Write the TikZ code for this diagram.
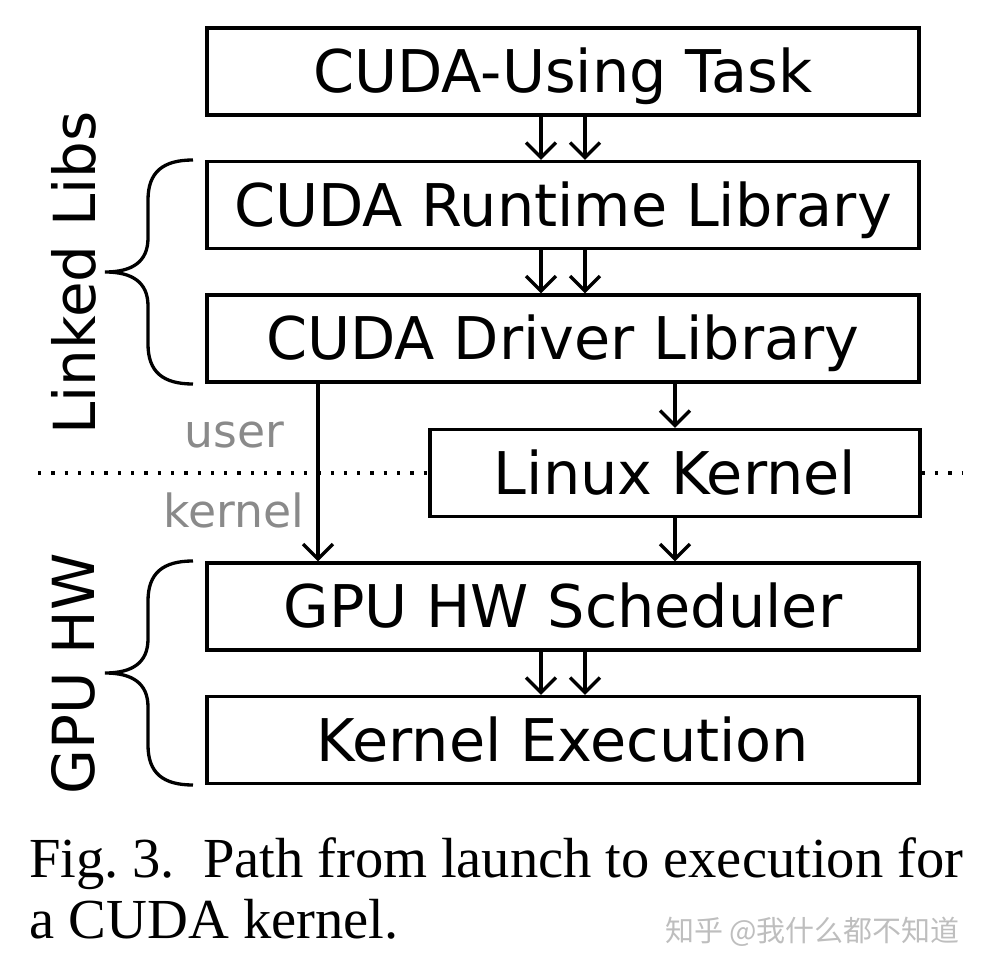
\documentclass[tikz,border=0pt]{standalone}
\usepackage{fontspec}
\setmainfont{DejaVu Sans}
\newfontfamily\capfont{Liberation Serif}
\newfontfamily\cjkfont{Noto Sans CJK SC}
\usetikzlibrary{arrows.meta}
\definecolor{lblgray}{RGB}{138,138,138}
\definecolor{wmgray}{RGB}{190,190,190}
\begin{document}
\begin{tikzpicture}[x=0.02cm,y=-0.02cm,
  lw/.style={line width=0.066cm},
  box/.style={draw, lw, rectangle, inner sep=0pt, minimum height=1.74cm,
    font=\fontsize{33.5}{40}\selectfont, text height=24.4pt, text depth=0pt},
  arr/.style={lw, -{Straight Barb[length=8.5pt,width=17pt]}},
  side/.style={rotate=90, anchor=base, inner sep=0pt, font=\fontsize{33}{40}\selectfont},
  ulbl/.style={anchor=base, inner sep=0pt, text=lblgray, font=\fontsize{26}{30}\selectfont},
  dotline/.style={lw, dash pattern=on 0.066cm off 0.2cm},
  capt/.style={anchor=base west, inner sep=0pt, font=\capfont\fontsize{32.2}{38}\selectfont}
]
\useasboundingbox (0,0) rectangle (984,969);

% boxes
\node[box, minimum width=14.24cm] (task)  at (563,71.5) {CUDA-Using Task};
\node[box, minimum width=14.24cm] (rt)    at (563,205)  {CUDA Runtime Library};
\node[box, minimum width=14.24cm] (drv)   at (563,338.5){CUDA Driver Library};
\node[box, minimum width=9.8cm]   (linux) at (675,473)  {Linux Kernel};
\node[box, minimum width=14.24cm] (sched) at (563,606.5){GPU HW Scheduler};
\node[box, minimum width=14.24cm] (exec)  at (563,740)  {Kernel Execution};

% double arrows
\foreach \xx in {541,585} {
  \draw[arr] (task.south -| \xx,0) -- (rt.north -| \xx,0);
  \draw[arr] (rt.south -| \xx,0) -- (drv.north -| \xx,0);
  \draw[arr] (sched.south -| \xx,0) -- (exec.north -| \xx,0);
}
% single arrows
\draw[arr] (drv.south -| linux.north) -- (linux.north);
\draw[arr] (linux.south) -- (sched.north -| linux.south);
\draw[arr] (drv.south -| 318,0) -- (sched.north -| 318,0);

% user / kernel boundary
\coordinate (dl) at (38,473);
\coordinate (dr) at (963,473);
\draw[dotline] (dl) -- (linux.west);
\draw[dotline] (linux.east) -- (dr);
\node[ulbl] (user) at (234.5,448) {user};
\node[ulbl] (kern) at (233.5,527) {kernel};

% braces
\draw[lw] (193,160) .. controls (163,160) and (148,172) .. (148,200) -- (148,238)
  .. controls (148,262) and (132,272) .. (105,272)
  .. controls (132,272) and (148,282) .. (148,306) -- (148,344)
  .. controls (148,372) and (163,384) .. (193,384);
\draw[lw] (193,561) .. controls (163,561) and (148,573) .. (148,601) -- (148,639)
  .. controls (148,663) and (132,673) .. (105,673)
  .. controls (132,673) and (148,683) .. (148,707) -- (148,745)
  .. controls (148,773) and (163,785) .. (193,785);
\node[side] (ll) at (95,273) {Linked Libs};
\node[side] (gh) at (94,674) {GPU HW};

% caption
\node[capt] (cap1) at (29,877) {\frenchspacing\makebox[18.68cm][s]{Fig.\ 3.\hspace{0.25em} Path from launch to execution for}};
\node[capt] (cap2) at (29,938) {a CUDA kernel.};

% watermark
\node[inner sep=0pt, text=wmgray, font=\cjkfont\fontsize{16.5}{20}\selectfont] (wm) at (812.5,932) {知乎 @我什么都不知道};
\end{tikzpicture}
\end{document}
